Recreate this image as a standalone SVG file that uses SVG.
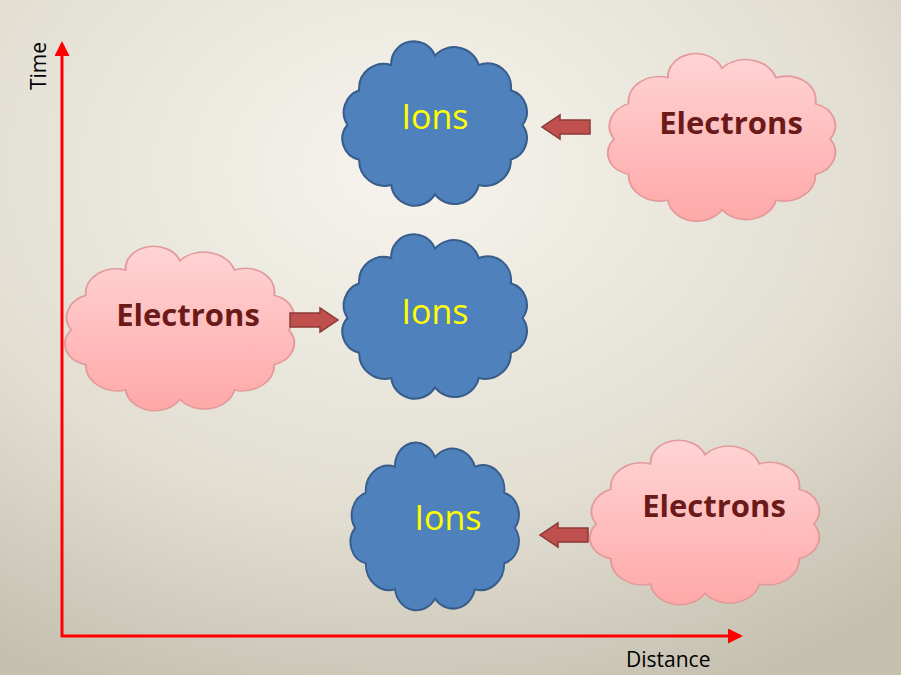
<svg xmlns="http://www.w3.org/2000/svg" width="901" height="675" viewBox="0 0 901 675">
<defs>
<radialGradient id="bg" cx="0.45" cy="0.25" r="0.85">
<stop offset="0" stop-color="#f6f4ee"/><stop offset="0.6" stop-color="#e2ded2"/><stop offset="1" stop-color="#c4bfae"/>
</radialGradient>
<linearGradient id="pk" x1="0" y1="0" x2="0" y2="1">
<stop offset="0" stop-color="#ffd4d4"/><stop offset="1" stop-color="#ffa8a8"/>
</linearGradient>
<path id="cloud" d="M85,0 A22,22 0 0 1 73.6,34 A25,25 0 0 1 42.5,58.9 A24,24 0 0 1 0,68 A23,23 0 0 1 -42.5,58.9 A25,25 0 0 1 -73.6,34 A21,21 0 0 1 -85,0 A23,23 0 0 1 -73.6,-34 A24,24 0 0 1 -42.5,-58.9 A22,22 0 0 1 0,-68 A25,25 0 0 1 42.5,-58.9 A23,23 0 0 1 73.6,-34 A22,22 0 0 1 85,0 Z"/>
<marker id="ah" viewBox="0 0 10 10" refX="8" refY="5" markerWidth="5" markerHeight="5" orient="auto"><path d="M0,0 L10,5 L0,10 Z" fill="#ff0000"/></marker>
<path id="barr" d="M0,-7 L30,-7 L30,-12 L48,0 L30,12 L30,7 L0,7 Z"/>
</defs>
<style>
.ion{fill:#4f81bd;stroke:#385d8a;stroke-width:2}
.el{fill:url(#pk);stroke:#e39a9a;stroke-width:1.5}
.it{font-family:"Open Sans",sans-serif;font-size:34px;fill:#ffff00;text-anchor:middle}
.et{font-family:"Open Sans",sans-serif;font-size:31px;font-weight:bold;fill:#6b1a1a;text-anchor:middle}
.ar{fill:#c0504d;stroke:#8c3836;stroke-width:1.5}
.ax{stroke:#ff0000;stroke-width:3;fill:none}
.lb{font-family:"Open Sans",sans-serif;font-size:21px;fill:#000}
</style>
<rect width="901" height="675" fill="url(#bg)"/>
<g id="ions1"><use href="#cloud" class="ion" transform="translate(435,125) scale(1.03,1.02)"/><text class="it" x="435" y="129">Ions</text></g>
<g id="ions2"><use href="#cloud" class="ion" transform="translate(435,318) scale(1.03,1.02)"/><text class="it" x="435" y="324">Ions</text></g>
<g id="ions3"><use href="#cloud" class="ion" transform="translate(435,528) scale(0.94,1.04)"/><text class="it" x="448" y="530">Ions</text></g>
<g id="el1"><use href="#cloud" class="el" transform="translate(722,139) scale(1.27,1.04)"/><text class="et" x="731" y="134">Electrons</text></g>
<g id="el2"><use href="#cloud" class="el" transform="translate(180,330) scale(1.28,1.02)"/><text class="et" x="188" y="326">Electrons</text></g>
<g id="el3"><use href="#cloud" class="el" transform="translate(705,524) scale(1.28,1.02)"/><text class="et" x="714" y="517">Electrons</text></g>
<g id="connectors">
<use href="#barr" class="ar" transform="translate(590,127) scale(-1,1)"/>
<use href="#barr" class="ar" transform="translate(290,320)"/>
<use href="#barr" class="ar" transform="translate(588,535) scale(-1,1)"/>
<path class="ax" d="M62,637 L62,44" marker-end="url(#ah)"/>
<path class="ax" d="M61,636 L740,636" marker-end="url(#ah)"/>
</g>
<text class="lb" transform="translate(46,90) rotate(-90)">Time</text>
<text class="lb" x="626" y="667">Distance</text>
</svg>
